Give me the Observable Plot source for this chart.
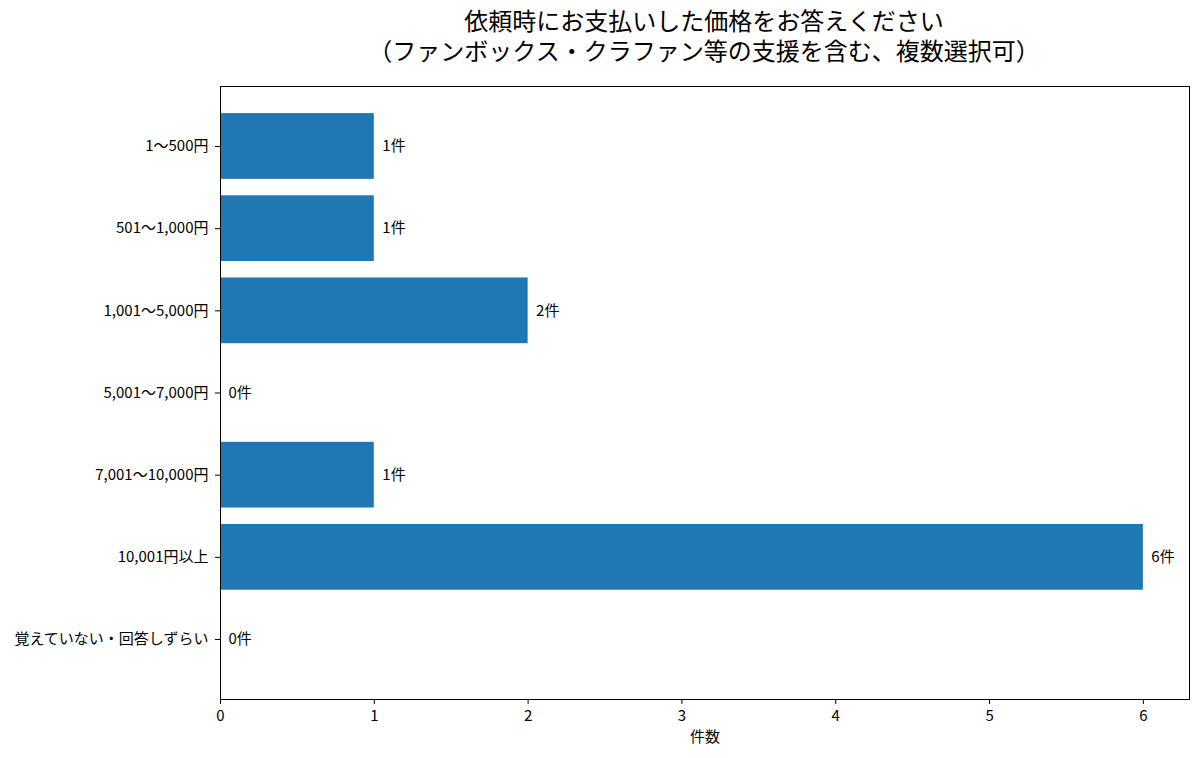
<!DOCTYPE html>
<html>
<head>
<meta charset="utf-8">
<script src="https://cdn.jsdelivr.net/npm/d3@7"></script>
<script src="https://cdn.jsdelivr.net/npm/@observablehq/plot@0.6"></script>
<style>
  body { margin: 0; background: #fff; font-family: "Noto Sans CJK JP", "Noto Sans", sans-serif; }
  #wrap { position: relative; width: 1200px; height: 758px; }
  .title { position: absolute; left: 204px; width: 1000px; text-align: center; font-size: 24px; line-height: 28px; height: 28px; color: #000; white-space: nowrap; }
  #t1 { top: 6px; }
  #t2 { top: 36px; }
  #chart { position: absolute; left: 0; top: 0; }
</style>
</head>
<body>
<div id="wrap">
  <div id="chart"></div>
  <div class="title" id="t1">依頼時にお支払いした価格をお答えください</div>
  <div class="title" id="t2">（ファンボックス・クラファン等の支援を含む、複数選択可）</div>
</div>
<script>
const categories = ["1〜500円", "501〜1,000円", "1,001〜5,000円", "5,001〜7,000円", "7,001〜10,000円", "10,001円以上", "覚えていない・回答しずらい"];
const counts = [1, 1, 2, 0, 1, 6, 0];
const xTicks = [0, 1, 2, 3, 4, 5, 6];
const xLabel = "件数";
const unit = "件";

const data = categories.map((c, i) => ({category: c, count: counts[i]}));

const chart = Plot.plot({
  width: 1200,
  height: 758,
  marginTop: 86,
  marginBottom: 59,
  marginLeft: 220,
  marginRight: 11,
  style: {fontFamily: '"Noto Sans CJK JP", "Noto Sans", sans-serif', fontSize: "15px", color: "#000", background: "#fff"},
  x: {domain: [0, 6.3]},
  y: {domain: categories, paddingInner: 0.2, paddingOuter: 0.33, round: false},
  marks: [
    Plot.barX(data, {y: "category", x: "count", fill: "#1f77b4"}),
    Plot.text(data, {y: "category", x: "count", text: d => d.count + unit, textAnchor: "start", dx: 8, fontSize: 15, fill: "#000"}),
    Plot.frame({stroke: "#000", strokeWidth: 1}),
    Plot.axisX({ticks: xTicks, tickFormat: d => String(d), tickSize: 5, tickPadding: 6, fontSize: 15, label: null}),
    Plot.axisY({tickSize: 5, tickPadding: 7, fontSize: 15, label: null}),
    Plot.text([xLabel], {frameAnchor: "bottom", dy: 42, fontSize: 15, fill: "#000", text: d => d})
  ]
});
document.getElementById("chart").appendChild(chart);
</script>
</body>
</html>
